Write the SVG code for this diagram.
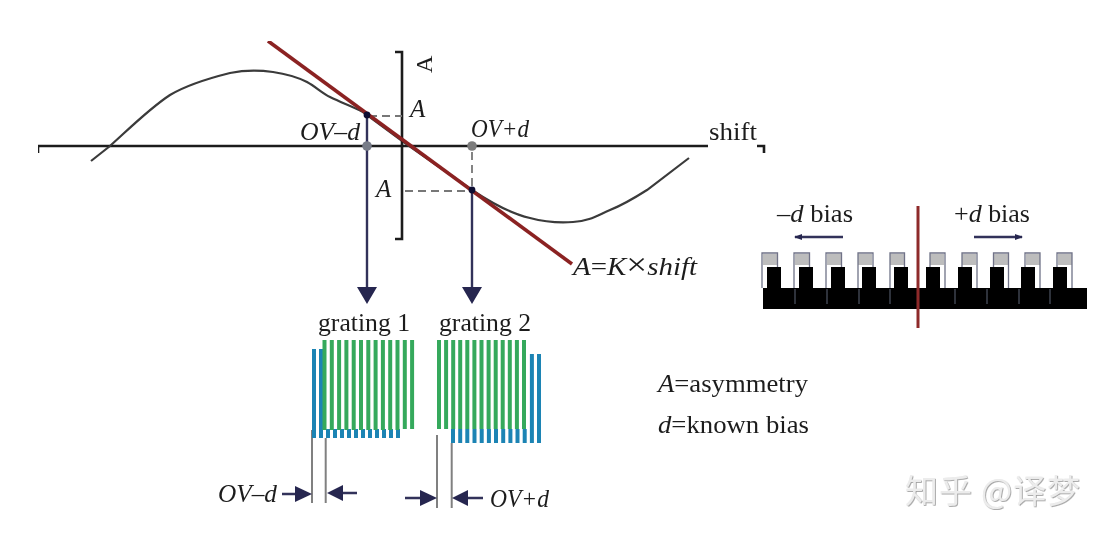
<svg xmlns="http://www.w3.org/2000/svg" width="1107" height="539" viewBox="0 0 1107 539">
<style>
.s{font-family:"Liberation Serif","Times New Roman",serif;fill:#1c1c1c}
.i{font-style:italic}
.n{fill:none;stroke:#1a1a1a}
.d{fill:none;stroke:#777;stroke-width:1.8;stroke-dasharray:8 5}
.v{fill:none;stroke:#33335a;stroke-width:2.4}
.h{fill:#26264f}
.g{fill:none;stroke:#808080;stroke-width:2}
.gr{fill:none;stroke:#35a95c;stroke-width:4}
.bl{fill:none;stroke:#1f84b4;stroke-width:4}
.t{fill:#050505}
.c{fill:#bdbdbd;stroke:none}
.o{fill:none;stroke:#6f7287;stroke-width:1.3}
</style>
<defs>
<filter id="soft" x="0" y="0" width="100%" height="100%"><feGaussianBlur stdDeviation="0.4"/></filter>
<filter id="em" x="-5%" y="-5%" width="110%" height="110%"><feDropShadow dx="0.8" dy="0.8" stdDeviation="0.4" flood-color="#999"/></filter>
<marker id="tip" viewBox="0 0 8 8" refX="7" refY="4" markerWidth="8" markerHeight="8" markerUnits="userSpaceOnUse" orient="auto-start-reverse"><path d="M0 1L8 4L0 7Z" fill="#26264f"/></marker>
</defs>
<rect width="1107" height="539" fill="#fff"/>
<g filter="url(#soft)">
<g id="connectors">
<path id="axis" class="n" stroke-width="2.6" d="M38 153V146H708M757 146H764V153"/>
<path id="curve" fill="none" stroke="#3a3a3a" stroke-width="2.2" d="M91 161L110 146C130 128 150 108 170 95C185 86 210 78 230 73C245 70 258 70 273 72C287 74 297 77 307 82C316 87 322 93 330 97C342 103 352 106 363 112L405 143L472 190C490 202 512 214 530 218C545 222 560 223 573 222C590 221 598 215 610 210C625 204 636 197 647 190L689 158"/>
<path id="bracket" class="n" stroke-width="2.6" d="M395 52H402V239H395"/>
<path class="d" d="M369 116H402M405 191H470"/>
<path class="d" d="M472 152V186"/>
<path class="v" d="M367 116V288M472 190V288"/>
<path class="h" d="M357 287H377L367 304ZM462 287H482L472 304Z"/>
<path id="fit" fill="none" stroke="#8b2424" stroke-width="3.6" d="M268 41L572 264"/>
<path class="g" d="M312 430V503M325.7 438V503M437 435V508M451.7 443V508"/>
<path class="v" d="M282 494H296M343 493H357M405 498H420M468 498H483"/>
<path class="h" d="M295 486L312 494L295 502ZM343 485L327 493L343 501ZM420 490L437 498L420 506ZM468 490L452 498L468 506Z"/>
<path class="v" stroke-width="1.6" marker-end="url(#tip)" d="M843 237H795"/>
<path class="v" stroke-width="1.6" marker-end="url(#tip)" d="M974 237H1022"/>
</g>
<g id="dots">
<circle cx="367" cy="146" r="4.8" fill="#777b88"/>
<circle cx="472" cy="146" r="4.8" fill="#7c7c7c"/>
<circle cx="367" cy="115" r="3.4" fill="#101030"/>
<circle cx="472" cy="190" r="3.4" fill="#101030"/>
</g>
<g id="plot-labels" class="s">
<text x="0" y="0" font-size="24" transform="translate(432 73) rotate(-90)">A</text>
<text class="s i" x="410" y="117" font-size="25">A</text>
<text class="s i" x="376" y="197" font-size="25">A</text>
<text class="s i" x="300" y="140" font-size="25" textLength="60" lengthAdjust="spacingAndGlyphs">OV–d</text>
<text class="s i" x="471" y="137" font-size="25" textLength="58" lengthAdjust="spacingAndGlyphs">OV+d</text>
<text class="s" x="709" y="140" font-size="26" textLength="48" lengthAdjust="spacingAndGlyphs">shift</text>
<text class="s" x="573" y="275" font-size="25" textLength="124" lengthAdjust="spacingAndGlyphs"><tspan class="i">A</tspan>=<tspan class="i">K</tspan><tspan font-size="32">×</tspan><tspan class="i">shift</tspan></text>
</g>
<g id="grating-1">
<text class="s" x="318" y="331" font-size="25" textLength="92" lengthAdjust="spacingAndGlyphs">grating 1</text>
<path class="bl" d="M314 349V438M321 349V438M328 429V438M335 429V438M342 429V438M349 429V438M356 429V438M363 429V438M370 429V438M377 429V438M384 429V438M391 429V438M398 429V438"/>
<path class="gr" d="M324.5 340V430M331.8 340V430M339.1 340V430M346.4 340V430M353.7 340V430M361 340V430M368.3 340V430M375.6 340V430M382.9 340V430M390.2 340V430M397.5 340V430M404.8 340V429M412.1 340V429"/>
</g>
<g id="grating-2">
<text class="s" x="439" y="331" font-size="25" textLength="92" lengthAdjust="spacingAndGlyphs">grating 2</text>
<path class="bl" d="M453 429V443M460.2 429V443M467.3 429V443M474.5 429V443M481.7 429V443M488.9 429V443M496 429V443M503.2 429V443M510.4 429V443M517.5 429V443M524.7 429V443M531.9 354V443M539 354V443"/>
<path class="gr" d="M439 340V429M446.1 340V429M453.2 340V429M460.2 340V429M467.3 340V429M474.4 340V429M481.5 340V429M488.6 340V429M495.7 340V429M502.7 340V429M509.8 340V429M516.9 340V429M524 340V429"/>
</g>
<g id="overlay-labels">
<text class="s i" x="218" y="502" font-size="25" textLength="59" lengthAdjust="spacingAndGlyphs">OV–d</text>
<text class="s i" x="490" y="507" font-size="25" textLength="59" lengthAdjust="spacingAndGlyphs">OV+d</text>
</g>
<g id="bias-structure">
<text class="s" x="777" y="222" font-size="25" textLength="76" lengthAdjust="spacingAndGlyphs">–<tspan class="i">d</tspan> bias</text>
<text class="s" x="954" y="222" font-size="25" textLength="76" lengthAdjust="spacingAndGlyphs">+<tspan class="i">d</tspan> bias</text>
<path class="c" d="M763 254h14v11h-14zM795 254h14v11h-14zM827 254h14v11h-14zM858 254h14v11h-14zM890 254h14v11h-14zM930 254h14v11h-14zM962 254h14v11h-14zM994 254h14v11h-14zM1026 254h14v11h-14zM1058 254h14v11h-14z"/>
<path class="o" d="M762 288V253H777.500V267M794 288V253H809.500V267M826 288V253H841.500V267M858 288V253H873V267M890 288V253H904.500V267M930 267V253H945V288M962 267V253H977V288M993.500 267V253H1008.500V288M1025 267V253H1040V288M1057 267V253H1072V288"/>
<path class="t" d="M767 267h14v21h-14zM799 267h14v21h-14zM831 267h14v21h-14zM862 267h14v21h-14zM894 267h14v21h-14zM926 267h14v21h-14zM958 267h14v21h-14zM990 267h14v21h-14zM1021 267h14v21h-14zM1053 267h14v21h-14z"/>
<rect class="t" x="763" y="288" width="324" height="21"/>
<path fill="none" stroke="#5a5d70" stroke-width="1" d="M795 289V304M827 289V304M859 289V304M890 289V304M955 289V304M987 289V304M1019 289V304M1050 289V304"/>
<path fill="none" stroke="#8e2a2a" stroke-width="3" d="M918 206V328"/>
</g>
<g id="legend">
<text class="s" x="658" y="392" font-size="25" textLength="150" lengthAdjust="spacingAndGlyphs"><tspan class="i">A</tspan>=asymmetry</text>
<text class="s" x="658" y="433" font-size="25" textLength="151" lengthAdjust="spacingAndGlyphs"><tspan class="i">d</tspan>=known bias</text>
</g>
</g>
<g id="watermark">
<text x="905" y="503" font-size="33" fill="#ececec" filter="url(#em)" textLength="175" font-family="'Noto Sans CJK SC','Liberation Sans',sans-serif">知乎 @译梦</text>
</g>
</svg>
